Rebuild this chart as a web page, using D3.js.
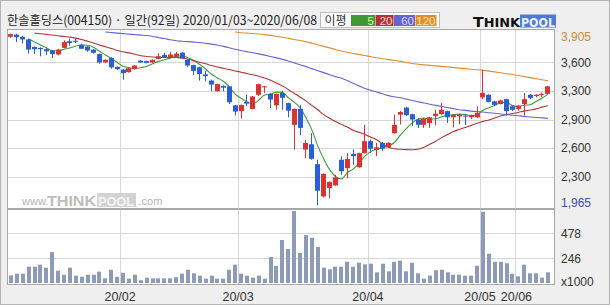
<!DOCTYPE html>
<html><head><meta charset="utf-8">
<script src="https://cdn.jsdelivr.net/npm/d3@7"></script>
<style>html,body{margin:0;padding:0;background:#fff;}svg{display:block}</style>
</head><body><svg id="c" width="610" height="305"></svg>
<script>
// ---------- data ----------
const opens  = [3870,3895,3870,3840,3755,3745,3730,3715,3670,3745,3820,3825,3780,3760,3725,3675,3580,3630,3530,3500,
                3470,3505,3600,3595,3580,3620,3665,3640,3650,3690,3610,3550,3525,3445,3375,3255,3315,3310,3095,3030,
                3135,3055,3215,3300,3225,3095,3235,3120,2875,3055,2595,2655,2430,2065,2160,2190,2480,2385,2545,2395,
                2555,2690,2590,2670,2620,2780,2990,3070,2995,2935,2875,2895,2975,2995,3030,2960,2970,2980,2960,2960,
                3185,3215,3140,3110,3165,3085,3055,3110,3215,3200,3215,3225];
const highs  = [3905,3905,3880,3850,3760,3750,3740,3720,3735,3830,3850,3850,3790,3765,3730,3680,3615,3640,3535,3505,
                3520,3550,3610,3600,3615,3685,3690,3700,3700,3700,3615,3555,3530,3480,3385,3340,3320,3315,3100,3105,
                3215,3200,3340,3315,3230,3230,3260,3125,3060,3100,2705,2780,2480,2325,2235,2310,2520,2555,2595,2560,
                2875,2710,2670,2680,2680,2990,3030,3080,3000,2950,2950,2965,3045,3120,3035,2995,3000,2995,2990,3085,
                3500,3220,3145,3160,3170,3090,3100,3235,3225,3220,3240,3315];
const lows   = [3860,3810,3795,3680,3675,3650,3665,3630,3660,3740,3770,3800,3730,3700,3680,3565,3575,3510,3495,3385,
                3465,3500,3575,3570,3575,3615,3635,3635,3645,3620,3530,3440,3375,3365,3255,3250,3255,3110,2980,2945,
                3085,3050,3200,3235,3065,3045,3045,2960,2595,2760,2500,2480,1965,2055,2045,2185,2310,2270,2425,2390,
                2550,2555,2520,2580,2615,2775,2880,2975,2860,2840,2840,2840,2870,2990,2895,2845,2880,2875,2940,2955,
                3165,3130,3090,3105,2980,3030,3035,2980,3165,3185,3190,3220];
const closes = [3900,3865,3840,3725,3730,3730,3705,3675,3725,3810,3800,3815,3735,3715,3690,3580,3610,3525,3505,3460,
                3515,3545,3580,3575,3610,3650,3640,3670,3680,3625,3545,3485,3450,3425,3330,3335,3295,3130,3025,3100,
                3115,3195,3335,3310,3160,3225,3180,3035,3055,2840,2670,2490,2130,2320,2230,2280,2350,2490,2520,2555,
                2690,2605,2620,2605,2670,2875,3020,2985,2935,2875,2945,2960,3000,3045,2960,2985,2990,2975,2985,3010,
                3235,3135,3100,3150,3030,3045,3090,3165,3180,3215,3225,3310];
const volumes = [88,103,103,168,168,187,159,304,131,94,159,85,75,94,94,122,60,140,75,112,
                 57,94,42,66,60,60,60,60,70,103,140,107,85,57,85,57,57,140,187,103,
                 85,66,85,57,258,175,416,332,685,295,462,437,351,159,144,168,168,214,168,205,
                 190,196,116,196,125,214,224,125,205,107,57,85,135,140,116,94,94,85,85,177,
                 678,289,214,214,200,103,79,187,107,107,66,116];
const ma5 = [null,null,null,3845,3812,3778,3746,3713,3713,3729,3743,3765,3777,3775,3751,3707,3666,3624,3582,3536,
             3523,3510,3521,3535,3565,3592,3611,3629,3650,3653,3632,3601,3557,3506,3447,3405,3367,3303,3223,3177,
             3133,3113,3154,3211,3223,3245,3242,3182,3131,3067,2956,2818,2637,2490,2368,2290,2262,2334,2374,2439,
             2521,2572,2598,2615,2638,2675,2758,2831,2897,2938,2952,2940,2943,2965,2982,2990,2996,2991,2979,2989,
             3039,3068,3093,3126,3130,3092,3083,3096,3102,3139,3175,3219];
const ma20 = [null,null,null,null,3912,3905,3897,3890,3882,3873,3866,3855,3840,3820,3800,3778,3758,3738,3715,3700,
              3688,3672,3656,3648,3642,3638,3636,3636,3637,3630,3617,3598,3582,3565,3545,3528,3514,3500,3484,3470,
              3455,3440,3425,3405,3378,3348,3315,3275,3232,3190,3145,3095,3045,2990,2950,2912,2880,2850,2812,2790,
              2765,2735,2705,2660,2620,2604,2598,2594,2593,2598,2620,2655,2690,2730,2765,2800,2822,2845,2868,2892,
              2912,2930,2952,2975,2990,3002,3015,3030,3042,3055,3075,3090];
const ma60 = [null,null,null,null,null,null,null,null,null,null,null,null,null,null,null,null,3925,3918,3912,3906,
              3900,3895,3889,3884,3874,3862,3850,3836,3825,3820,3815,3810,3805,3796,3787,3777,3762,3746,3730,3715,
              3702,3690,3677,3663,3648,3632,3615,3596,3575,3555,3533,3510,3487,3465,3442,3420,3404,3375,3345,3315,
              3285,3265,3245,3225,3205,3192,3180,3165,3150,3136,3122,3108,3095,3082,3070,3058,3046,3038,3030,3024,
              3019,3012,3005,2998,2990,2983,2977,2970,2964,2958,2953,2948];
const ma120 = [null,null,null,null,null,null,null,null,null,null,null,null,null,null,null,null,null,null,null,null,
               null,null,null,null,null,null,null,null,null,null,null,null,null,null,null,null,null,null,3925,3916,
               3912,3908,3902,3895,3886,3876,3865,3853,3840,3828,3815,3797,3780,3762,3745,3727,3710,3695,3682,3670,
               3658,3645,3633,3622,3612,3602,3592,3580,3568,3560,3553,3547,3541,3536,3530,3523,3516,3510,3503,3497,
               3490,3482,3473,3463,3453,3444,3433,3421,3408,3396,3384,3372];
const priceTicks = [3905,3582,3258,2935,2612,2288,1965];
const priceTickLabels = ["3,905","3,600","3,300","2,900","2,600","2,300","1,965"];
const volTicks = [478,246];
const volTickLabels = ["478","246"];
const monthStarts = [19,39,61,80,86];
const monthLabels = ["20/02","20/03","20/04","20/05","20/06"];
const maPeriods = ["5","20","60","120"];
const titleText = "한솔홀딩스(004150) · 일간(92일) 2020/01/03~2020/06/08";

// ---------- layout ----------
const svg = d3.select("#c");
const L = 8, R = 554, PT = 30, PB = 208.5, VT = 209.5, VB = 284;
const N = closes.length;
const x = d3.scaleBand().domain(d3.range(N)).range([L, L + N * 5.9]);
const cx = i => x(i) + x.bandwidth() / 2;
const y = d3.scaleLinear().domain([1965, 3905]).range([205.3, 33.7]);
const yv = d3.scaleLinear().domain([14, 710]).range([283.3, 208.3]);

const UP = "#dc3232", DN = "#2a5ed6";
const MA_COLORS = ["#3f9a36", "#b03434", "#6464d6", "#e38c2c"];

// background
svg.append("rect").attr("width", 610).attr("height", 305).attr("fill", "#efefef");
svg.append("rect").attr("x", 0.5).attr("y", 0.5).attr("width", 609).attr("height", 304)
  .attr("fill", "none").attr("stroke", "#b4b4b4");

// panels
svg.append("rect").attr("x", L - 0.5).attr("y", PT - 0.5).attr("width", R - L + 1).attr("height", PB - PT + 0.5)
  .attr("fill", "#fff").attr("stroke", "#a8a8a8");
svg.append("rect").attr("x", L - 0.5).attr("y", VT).attr("width", R - L + 1).attr("height", VB - VT + 0.5)
  .attr("fill", "#fff").attr("stroke", "#a8a8a8");

const grid = svg.append("g").attr("stroke", "#d6d6d6").attr("stroke-width", 1);
priceTicks.slice(1, -1).forEach(v => {
  const yy = Math.round(y(v)) + 0.5;
  grid.append("line").attr("x1", L).attr("x2", R).attr("y1", yy).attr("y2", yy);
});
volTicks.forEach(v => {
  const yy = Math.round(yv(v)) + 0.5;
  grid.append("line").attr("x1", L).attr("x2", R).attr("y1", yy).attr("y2", yy);
});
monthStarts.forEach(i => {
  const xx = Math.round(x(i)) + 0.5;
  grid.append("line").attr("x1", xx).attr("x2", xx).attr("y1", PT).attr("y2", PB);
  grid.append("line").attr("x1", xx).attr("x2", xx).attr("y1", VT + 0.5).attr("y2", VB);
});

// watermark
const wm = svg.append("g").attr("font-family", "Liberation Sans, Arial, sans-serif");
wm.append("text").attr("x", 22).attr("y", 205).attr("font-size", 11).attr("fill", "#b4b4b4").text("www.");
wm.append("text").attr("x", 47).attr("y", 206).attr("font-size", 15.5).attr("font-weight", "bold")
  .attr("fill", "#bdbdbd").attr("textLength", 49).attr("lengthAdjust", "spacingAndGlyphs").text("THINK");
wm.append("rect").attr("x", 97).attr("y", 193).attr("width", 39).attr("height", 14).attr("fill", "#d2d2d2");
wm.append("text").attr("x", 98).attr("y", 206).attr("font-size", 12.5).attr("font-weight", "bold")
  .attr("fill", "#f4f4f4").attr("textLength", 36).attr("lengthAdjust", "spacingAndGlyphs").text("POOL");
wm.append("text").attr("x", 138.5).attr("y", 205).attr("font-size", 11).attr("fill", "#b4b4b4").text(".com");

// clip
svg.append("clipPath").attr("id", "pc").append("rect")
  .attr("x", L).attr("y", PT).attr("width", R - L).attr("height", PB - PT);

// volume bars
svg.append("g").selectAll("rect").data(volumes).join("rect")
  .attr("x", (d, i) => Math.round(cx(i) - 2))
  .attr("width", 4)
  .attr("y", d => yv(d))
  .attr("height", d => Math.max(0.5, 283 - yv(d)))
  .attr("fill", "#8e9bb8");

// moving averages
const plot = svg.append("g").attr("clip-path", "url(#pc)");
[ma5, ma20, ma60, ma120].forEach((arr, k) => {
  const line = d3.line().defined(d => d != null).x((d, i) => cx(i)).y(d => y(d)).curve(d3.curveMonotoneX);
  plot.append("path").attr("d", line(arr)).attr("fill", "none")
    .attr("stroke", MA_COLORS[k]).attr("stroke-width", 1.1);
});

// candles
const cg = plot.append("g");
closes.forEach((c, i) => {
  const o = opens[i], h = highs[i], l = lows[i];
  const col = c >= o ? UP : DN;
  const left = Math.round(cx(i) - 2.5);
  cg.append("rect").attr("x", left + 2).attr("width", 1)
    .attr("y", y(h)).attr("height", Math.max(1, y(l) - y(h))).attr("fill", col);
  const top = y(Math.max(o, c)), bot = y(Math.min(o, c));
  cg.append("rect").attr("x", left).attr("width", 5)
    .attr("y", top).attr("height", Math.max(1, bot - top)).attr("fill", col);
});

// right axis labels
const ax = svg.append("g").attr("font-family", "Liberation Sans, Arial, sans-serif").attr("font-size", 12);
priceTicks.forEach((v, k) => {
  const yy = Math.min(203, Math.max(37, y(v)));
  ax.append("text").attr("x", 561).attr("y", yy + 4.3)
    .attr("fill", k === 0 ? "#c98a3c" : (k === priceTicks.length - 1 ? "#3d4da6" : "#333"))
    .text(priceTickLabels[k]);
});
volTicks.forEach((v, k) => {
  ax.append("text").attr("x", 561).attr("y", yv(v) + 4.6).attr("fill", "#333").text(volTickLabels[k]);
});
ax.append("text").attr("x", 561).attr("y", 285.5).attr("fill", "#333").text("x1000");
monthStarts.forEach((i, k) => {
  ax.append("text").attr("x", x(i) + (k === 4 ? 1 : 0)).attr("y", 301).attr("text-anchor", "middle")
    .attr("fill", "#333").attr("font-size", 12.5).text(monthLabels[k]);
});

// title
svg.append("text").attr("x", 7).attr("y", 24.5)
  .attr("font-family", "Noto Sans CJK KR, sans-serif").attr("font-size", 12.5).attr("fill", "#222")
  .attr("textLength", 310).attr("lengthAdjust", "spacingAndGlyphs").text(titleText);

// legend
const lg = svg.append("g");
lg.append("rect").attr("x", 320.5).attr("y", 12.5).attr("width", 119).attr("height", 15)
  .attr("fill", "#fff").attr("stroke", "#bdbdbd");
lg.append("text").attr("x", 324.5).attr("y", 24.5).attr("font-family", "Noto Sans CJK KR, sans-serif")
  .attr("font-size", 12).attr("fill", "#333").text("이평");
const boxes = [[351, 24], [375.5, 18], [394, 21], [415.5, 21]];
const txtCol = ["#c8ff9c", "#ffd0d0", "#d8d8ff", "#ffe6a8"];
maPeriods.forEach((p, k) => {
  const [bx, bw] = boxes[k];
  lg.append("rect").attr("x", bx).attr("y", 15).attr("width", bw).attr("height", 11).attr("fill", MA_COLORS[k]);
  lg.append("text").attr("x", bx + bw - 1).attr("y", 24.5).attr("text-anchor", "end")
    .attr("font-family", "Liberation Sans, Arial, sans-serif").attr("font-size", 11.5)
    .attr("fill", txtCol[k]).text(p);
});

// logo
const lo = svg.append("g").attr("font-family", "DejaVu Sans, sans-serif").attr("font-weight", "bold");
const t1 = lo.append("text").attr("x", 473).attr("y", 26.5).attr("fill", "#111")
  .attr("textLength", 47).attr("lengthAdjust", "spacingAndGlyphs");
t1.append("tspan").attr("font-size", 14).text("T");
t1.append("tspan").attr("font-size", 11.5).text("HINK");
lo.append("rect").attr("x", 520).attr("y", 14.5).attr("width", 36).attr("height", 13).attr("fill", "#4d7ad6");
lo.append("text").attr("x", 521).attr("y", 26.5).attr("fill", "#eaf1ff").attr("font-size", 12)
  .attr("textLength", 34).attr("lengthAdjust", "spacingAndGlyphs").text("POOL");
</script></body></html>
